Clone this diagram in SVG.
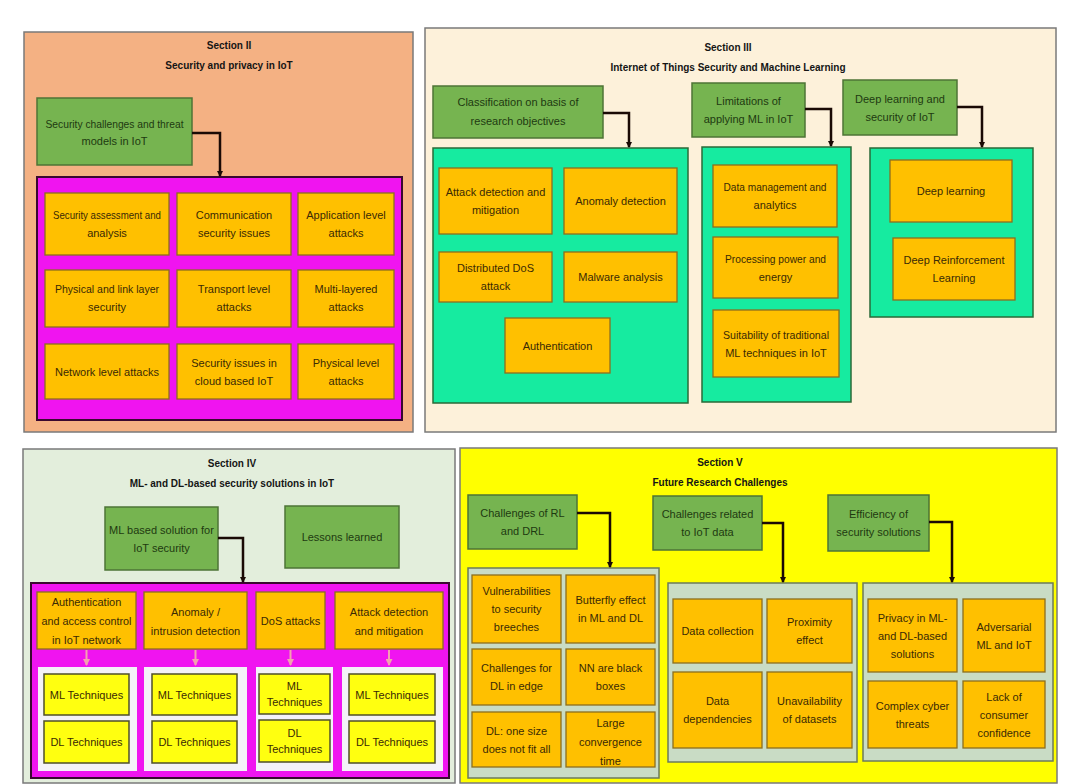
<svg xmlns="http://www.w3.org/2000/svg" width="1066" height="784" viewBox="0 0 1066 784">
<style>
.bg{fill:#ffffff}
.sec{stroke:#7a7a7a;stroke-width:1.5}
.s2{fill:#F4B183}
.s3{fill:#FDF1DA}
.s4{fill:#E3EEDC}
.s5{fill:#FFFF00}
.org{fill:#FFC000;stroke:#8C6E1E;stroke-width:1.3}
.grn{fill:#76B450;stroke:#4E7436;stroke-width:1.5}
.mag{fill:#F014F0;stroke:#3A0830;stroke-width:2}
.teal{fill:#16EBA0;stroke:#2A6A38;stroke-width:1.5}
.yel{fill:#FFFF10;stroke:#4F4F2A;stroke-width:1.5}
.wht{fill:#F4F2F8}
.gp{fill:#C9DCC5;stroke:#6B7B5B;stroke-width:1.5}
text{font-family:"Liberation Sans Narrow","Liberation Sans",sans-serif;font-size:11px;fill:#3A2A05;text-anchor:middle}
.tg{fill:#1E3A10}
.h{font-weight:bold;fill:#151515;font-size:10px}
.conn{fill:none;stroke:#1A0A05;stroke-width:2.5}
.pk{fill:none;stroke:#F4A0B0;stroke-width:2}
</style>
<defs>
<marker id="ah" markerWidth="6" markerHeight="6" refX="5" refY="3" orient="auto" markerUnits="userSpaceOnUse" viewBox="0 0 6 6"><path d="M0,0 L6,3 L0,6 z" fill="#1A0A05"/></marker>
<marker id="ap" markerWidth="7" markerHeight="7" refX="6" refY="3.5" orient="auto" markerUnits="userSpaceOnUse" viewBox="0 0 7 7"><path d="M0,0 L7,3.5 L0,7 z" fill="#F4A0B0"/></marker>
</defs>
<rect class="bg" x="0" y="0" width="1066" height="784"/>

<!-- Section II -->
<g id="section2">
<rect class="sec s2" x="24" y="32" width="389" height="400"/>
<text class="h" x="229" y="49">Section II</text>
<text class="h" x="229" y="69">Security and privacy in IoT</text>
</g>
<g id="s2-head"><rect class="grn" x="37" y="98" width="155" height="67"/><text class="tg"><tspan x="114.5" y="127.5" textLength="138" lengthAdjust="spacingAndGlyphs">Security challenges and threat</tspan><tspan x="114.5" y="144.5">models in IoT</tspan></text></g>
<g id="s2-box"><rect class="mag" x="37" y="177" width="365" height="243"/></g>
<g id="s2-c1"><rect class="org" x="45" y="193" width="124" height="62"/><text><tspan x="107" y="219" textLength="108" lengthAdjust="spacingAndGlyphs">Security assessment and</tspan><tspan x="107" y="237">analysis</tspan></text></g>
<g id="s2-c2"><rect class="org" x="177" y="193" width="114" height="62"/><text><tspan x="234" y="219">Communication</tspan><tspan x="234" y="237">security issues</tspan></text></g>
<g id="s2-c3"><rect class="org" x="298" y="193" width="96" height="62"/><text><tspan x="346" y="219">Application level</tspan><tspan x="346" y="237">attacks</tspan></text></g>
<g id="s2-c4"><rect class="org" x="45" y="270" width="124" height="57"/><text><tspan x="107" y="293" textLength="104" lengthAdjust="spacingAndGlyphs">Physical and link layer</tspan><tspan x="107" y="311">security</tspan></text></g>
<g id="s2-c5"><rect class="org" x="177" y="270" width="114" height="57"/><text><tspan x="234" y="293">Transport level</tspan><tspan x="234" y="311">attacks</tspan></text></g>
<g id="s2-c6"><rect class="org" x="298" y="270" width="96" height="57"/><text><tspan x="346" y="293">Multi-layered</tspan><tspan x="346" y="311">attacks</tspan></text></g>
<g id="s2-c7"><rect class="org" x="45" y="344" width="124" height="55"/><text x="107" y="375.5">Network level attacks</text></g>
<g id="s2-c8"><rect class="org" x="177" y="344" width="114" height="55"/><text><tspan x="234" y="366.5">Security issues in</tspan><tspan x="234" y="384.5">cloud based IoT</tspan></text></g>
<g id="s2-c9"><rect class="org" x="298" y="344" width="96" height="55"/><text><tspan x="346" y="366.5">Physical level</tspan><tspan x="346" y="384.5">attacks</tspan></text></g>

<!-- Section III -->
<g id="section3">
<rect class="sec s3" x="425" y="28" width="631" height="404"/>
<text class="h" x="728" y="51">Section III</text>
<text class="h" x="728" y="71">Internet of Things Security and Machine Learning</text>
</g>
<g id="s3-head1"><rect class="grn" x="433" y="86" width="170" height="52"/><text class="tg"><tspan x="518" y="106">Classification on basis of</tspan><tspan x="518" y="125">research objectives</tspan></text></g>
<g id="s3-box1"><rect class="teal" x="433" y="148" width="255" height="255"/></g>
<g id="s3-a1"><rect class="org" x="439" y="168" width="113" height="66"/><text><tspan x="495.5" y="196">Attack detection and</tspan><tspan x="495.5" y="214">mitigation</tspan></text></g>
<g id="s3-a2"><rect class="org" x="564" y="168" width="113" height="66"/><text x="620.5" y="205">Anomaly detection</text></g>
<g id="s3-a3"><rect class="org" x="439" y="252" width="113" height="50"/><text><tspan x="495.5" y="272">Distributed DoS</tspan><tspan x="495.5" y="290">attack</tspan></text></g>
<g id="s3-a4"><rect class="org" x="564" y="252" width="113" height="50"/><text x="620.5" y="281">Malware analysis</text></g>
<g id="s3-a5"><rect class="org" x="505" y="318" width="105" height="55"/><text x="557.5" y="349.5">Authentication</text></g>

<g id="s3-head2"><rect class="grn" x="692" y="83" width="113" height="54"/><text class="tg"><tspan x="748.5" y="105">Limitations of</tspan><tspan x="748.5" y="123">applying ML in IoT</tspan></text></g>
<g id="s3-box2"><rect class="teal" x="702" y="147" width="149" height="255"/></g>
<g id="s3-b1"><rect class="org" x="713" y="165" width="124" height="62"/><text><tspan x="775" y="191" textLength="103" lengthAdjust="spacingAndGlyphs">Data management and</tspan><tspan x="775" y="209">analytics</tspan></text></g>
<g id="s3-b2"><rect class="org" x="713" y="237" width="125" height="61"/><text><tspan x="775.5" y="262.5" textLength="101" lengthAdjust="spacingAndGlyphs">Processing power and</tspan><tspan x="775.5" y="280.5">energy</tspan></text></g>
<g id="s3-b3"><rect class="org" x="713" y="310" width="126" height="67"/><text><tspan x="776" y="338.5" textLength="106" lengthAdjust="spacingAndGlyphs">Suitability of traditional</tspan><tspan x="776" y="356.5">ML techniques in IoT</tspan></text></g>

<g id="s3-head3"><rect class="grn" x="843" y="80" width="114" height="55"/><text class="tg"><tspan x="900" y="102.5">Deep learning and</tspan><tspan x="900" y="120.5">security of IoT</tspan></text></g>
<g id="s3-box3"><rect class="teal" x="870" y="148" width="163" height="169"/></g>
<g id="s3-c1"><rect class="org" x="890" y="160" width="122" height="62"/><text x="951" y="195">Deep learning</text></g>
<g id="s3-c2"><rect class="org" x="893" y="238" width="122" height="62"/><text><tspan x="954" y="264">Deep Reinforcement</tspan><tspan x="954" y="282">Learning</tspan></text></g>

<!-- Section IV -->
<g id="section4">
<rect class="sec s4" x="23" y="449" width="432" height="334"/>
<text class="h" x="232" y="467">Section IV</text>
<text class="h" x="232" y="487">ML- and DL-based security solutions in IoT</text>
</g>
<g id="s4-head"><rect class="grn" x="105" y="507" width="113" height="63"/><text class="tg"><tspan x="161.5" y="533.5">ML based solution for</tspan><tspan x="161.5" y="551.5">IoT security</tspan></text></g>
<g id="s4-lessons"><rect class="grn" x="285" y="506" width="114" height="62"/><text class="tg" x="342" y="541">Lessons learned</text></g>
<g id="s4-box"><rect class="mag" x="31" y="583" width="418" height="195"/>
<rect class="wht" x="38" y="667" width="99" height="104"/>
<rect class="wht" x="144" y="667" width="103" height="104"/>
<rect class="wht" x="256" y="667" width="77" height="104"/>
<rect class="wht" x="342" y="667" width="101" height="104"/>
</g>
<g id="s4-h1"><rect class="org" x="37" y="592" width="99" height="57"/><text><tspan x="86.5" y="605.5">Authentication</tspan><tspan x="86.5" y="624.5" textLength="90" lengthAdjust="spacingAndGlyphs">and access control</tspan><tspan x="86.5" y="643.5">in IoT network</tspan></text></g>
<g id="s4-h2"><rect class="org" x="144" y="592" width="103" height="57"/><text><tspan x="195.5" y="615.5">Anomaly /</tspan><tspan x="195.5" y="634.5">intrusion detection</tspan></text></g>
<g id="s4-h3"><rect class="org" x="256" y="592" width="69" height="57"/><text x="290.5" y="624.5">DoS attacks</text></g>
<g id="s4-h4"><rect class="org" x="335" y="592" width="108" height="57"/><text><tspan x="389" y="615.5">Attack detection</tspan><tspan x="389" y="634.5">and mitigation</tspan></text></g>
<g id="s4-y1"><rect class="yel" x="44" y="674" width="85" height="41"/><text x="86.5" y="698.5">ML Techniques</text></g>
<g id="s4-y2"><rect class="yel" x="44" y="721" width="85" height="42"/><text x="86.5" y="746">DL Techniques</text></g>
<g id="s4-y3"><rect class="yel" x="152" y="674" width="85" height="41"/><text x="194.5" y="698.5">ML Techniques</text></g>
<g id="s4-y4"><rect class="yel" x="152" y="721" width="85" height="42"/><text x="194.5" y="746">DL Techniques</text></g>
<g id="s4-y5"><rect class="yel" x="259" y="674" width="71" height="40"/><text><tspan x="294.5" y="690">ML</tspan><tspan x="294.5" y="706">Techniques</tspan></text></g>
<g id="s4-y6"><rect class="yel" x="259" y="720" width="71" height="42"/><text><tspan x="294.5" y="737">DL</tspan><tspan x="294.5" y="753">Techniques</tspan></text></g>
<g id="s4-y7"><rect class="yel" x="349" y="674" width="86" height="41"/><text x="392" y="698.5">ML Techniques</text></g>
<g id="s4-y8"><rect class="yel" x="349" y="721" width="86" height="42"/><text x="392" y="746">DL Techniques</text></g>

<!-- Section V -->
<g id="section5">
<rect class="sec s5" x="460" y="448" width="597" height="335"/>
<text class="h" x="720" y="466">Section V</text>
<text class="h" x="720" y="486">Future Research Challenges</text>
</g>
<g id="s5-head1"><rect class="grn" x="468" y="495" width="109" height="54"/><text class="tg"><tspan x="522.5" y="517">Challenges of RL</tspan><tspan x="522.5" y="535">and DRL</tspan></text></g>
<g id="s5-box1"><rect class="gp" x="468" y="568" width="191" height="210"/></g>
<g id="s5-a1"><rect class="org" x="472" y="575" width="89" height="68"/><text><tspan x="516.5" y="595">Vulnerabilities</tspan><tspan x="516.5" y="613">to security</tspan><tspan x="516.5" y="631">breeches</tspan></text></g>
<g id="s5-a2"><rect class="org" x="566" y="575" width="89" height="68"/><text><tspan x="610.5" y="604">Butterfly effect</tspan><tspan x="610.5" y="622">in ML and DL</tspan></text></g>
<g id="s5-a3"><rect class="org" x="472" y="649" width="89" height="56"/><text><tspan x="516.5" y="672">Challenges for</tspan><tspan x="516.5" y="690">DL in edge</tspan></text></g>
<g id="s5-a4"><rect class="org" x="566" y="649" width="89" height="56"/><text><tspan x="610.5" y="672">NN are black</tspan><tspan x="610.5" y="690">boxes</tspan></text></g>
<g id="s5-a5"><rect class="org" x="472" y="712" width="89" height="55"/><text><tspan x="516.5" y="734.5">DL: one size</tspan><tspan x="516.5" y="752.5">does not fit all</tspan></text></g>
<g id="s5-a6"><rect class="org" x="566" y="712" width="89" height="55"/><text><tspan x="610.5" y="727">Large</tspan><tspan x="610.5" y="746">convergence</tspan><tspan x="610.5" y="765">time</tspan></text></g>

<g id="s5-head2"><rect class="grn" x="653" y="496" width="109" height="54"/><text class="tg"><tspan x="707.5" y="518">Challenges related</tspan><tspan x="707.5" y="536">to IoT data</tspan></text></g>
<g id="s5-box2"><rect class="gp" x="668" y="583" width="189" height="179"/></g>
<g id="s5-b1"><rect class="org" x="673" y="599" width="89" height="64"/><text x="717.5" y="635">Data collection</text></g>
<g id="s5-b2"><rect class="org" x="767" y="599" width="85" height="64"/><text><tspan x="809.5" y="626">Proximity</tspan><tspan x="809.5" y="644">effect</tspan></text></g>
<g id="s5-b3"><rect class="org" x="673" y="672" width="89" height="76"/><text><tspan x="717.5" y="705">Data</tspan><tspan x="717.5" y="723">dependencies</tspan></text></g>
<g id="s5-b4"><rect class="org" x="767" y="672" width="85" height="76"/><text><tspan x="809.5" y="705">Unavailability</tspan><tspan x="809.5" y="723">of datasets</tspan></text></g>

<g id="s5-head3"><rect class="grn" x="828" y="495" width="101" height="56"/><text class="tg"><tspan x="878.5" y="518">Efficiency of</tspan><tspan x="878.5" y="536">security solutions</tspan></text></g>
<g id="s5-box3"><rect class="gp" x="863" y="583" width="190" height="178"/></g>
<g id="s5-c1"><rect class="org" x="868" y="599" width="89" height="73"/><text><tspan x="912.5" y="621.5">Privacy in ML-</tspan><tspan x="912.5" y="639.5">and DL-based</tspan><tspan x="912.5" y="657.5">solutions</tspan></text></g>
<g id="s5-c2"><rect class="org" x="963" y="599" width="82" height="73"/><text><tspan x="1004" y="630.5">Adversarial</tspan><tspan x="1004" y="648.5">ML and IoT</tspan></text></g>
<g id="s5-c3"><rect class="org" x="868" y="681" width="89" height="67"/><text><tspan x="912.5" y="709.5">Complex cyber</tspan><tspan x="912.5" y="727.5">threats</tspan></text></g>
<g id="s5-c4"><rect class="org" x="963" y="681" width="82" height="67"/><text><tspan x="1004" y="700.5">Lack of</tspan><tspan x="1004" y="718.5">consumer</tspan><tspan x="1004" y="736.5">confidence</tspan></text></g>

<g id="connectors">
<path class="conn" d="M192,133 H220 V176" marker-end="url(#ah)"/>
<path class="conn" d="M603,113 H629 V147" marker-end="url(#ah)"/>
<path class="conn" d="M805,109 H831 V146" marker-end="url(#ah)"/>
<path class="conn" d="M957,107 H982 V147" marker-end="url(#ah)"/>
<path class="conn" d="M218,538 H243 V582" marker-end="url(#ah)"/>
<path class="conn" d="M577,513 H610 V567" marker-end="url(#ah)"/>
<path class="conn" d="M762,523 H783 V582" marker-end="url(#ah)"/>
<path class="conn" d="M929,522 H952 V582" marker-end="url(#ah)"/>
<path class="pk" d="M86.5,650 V665" marker-end="url(#ap)"/>
<path class="pk" d="M195.5,650 V665" marker-end="url(#ap)"/>
<path class="pk" d="M290.5,650 V665" marker-end="url(#ap)"/>
<path class="pk" d="M389,650 V665" marker-end="url(#ap)"/>
</g>
</svg>
